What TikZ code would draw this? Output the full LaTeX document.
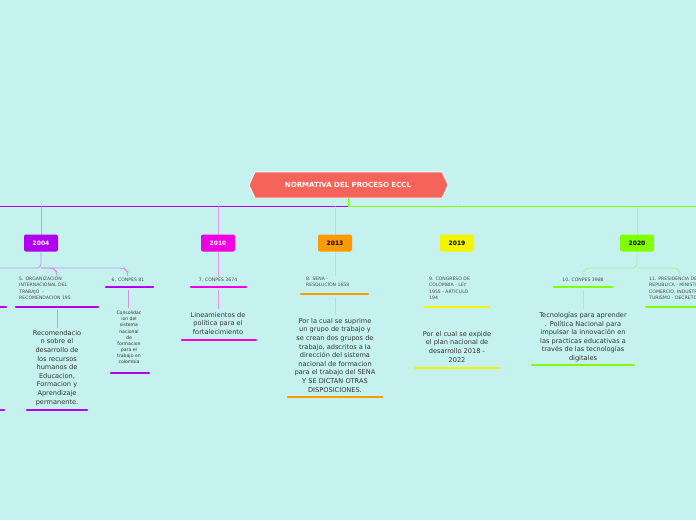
\documentclass[tikz,border=0pt]{standalone}
\usepackage{fontspec}
\setmainfont{DejaVu Sans}
\begin{document}
\begin{tikzpicture}[x=1pt,y=-1pt,
  yr/.style={rounded corners=2pt,minimum width=34pt,minimum height=17pt,inner sep=0pt,font=\fontsize{6}{7}\selectfont\bfseries},
  lab/.style={font=\fontsize{4.6}{6.2}\selectfont,text=black!70,align=left,inner sep=0pt,anchor=north west},
  body/.style={font=\fontsize{6.6}{8.6}\selectfont,text=black!80,align=center,inner sep=0pt,anchor=north},
  ul/.style={line width=2.6pt,line cap=round},
  br/.style={line width=0.8pt,rounded corners=4pt}]
\useasboundingbox (0,0) rectangle (696,520);
\fill[fill={rgb,255:red,197;green,242;blue,238}] (0,0) rectangle (696,520);
\clip (0,0) rectangle (696,520);
\definecolor{pu}{HTML}{B000F0}\definecolor{pul}{HTML}{D890F0}
\definecolor{mg}{HTML}{F000E0}\definecolor{mgl}{HTML}{F090E8}
\definecolor{og}{HTML}{FF9900}\definecolor{ogl}{HTML}{F0D090}
\definecolor{ye}{HTML}{F4F400}\definecolor{yel}{HTML}{E8F0A0}
\definecolor{gr}{HTML}{80FF00}\definecolor{grl}{HTML}{B0F0A0}
\definecolor{tred}{HTML}{F4645A}
% title
\coordinate (tc) at (348,197);
\draw[gr,line width=0.8pt] (tc) -- (348,206);
\draw[pu,line width=0.8pt] (0,206) -- (348,206);
\draw[gr,line width=0.8pt] (348,206) -- (696,206);
\fill[tred,draw=white,line width=0.8pt] (255,172) -- (442,172) -- (448,185) -- (442,198) -- (255,198) -- (249,185) -- cycle;
\node[text=white,font=\fontsize{7}{8}\selectfont\bfseries] (title) at (348,185) {NORMATIVA DEL PROCESO ECCL};
% year stems
\draw[pul,line width=0.8pt] (41,206) -- (41,240);
\draw[mgl,line width=0.8pt] (218,206) -- (218,240);
\draw[ogl,line width=0.8pt] (335,206) -- (335,240);
\draw[yel,line width=0.8pt] (457,206) -- (457,240);
\draw[grl,line width=0.8pt] (637,206) -- (637,240);
\node[yr,fill=pu,text=white] (y04) at (41,243) {2004};
\node[yr,fill=mg,text=white] (y10) at (218,243) {2010};
\node[yr,fill=og,text=black] (y13) at (335,243) {2013};
\node[yr,fill=ye,text=black] (y19) at (457,243) {2019};
\node[yr,fill=gr,text=black] (y20) at (637,243) {2020};
% 2004 branch
\draw[pul,br] (y04.south) -- (41,268) -- (0,268);
\draw[pul,br] (41,268) -- (124,268) -- (128,272) -- (128,276);
\draw[pul,br] (41,268) -- (53,268) -- (57,272) -- (57,276);
\draw[pul,line width=0.8pt] (57,310) -- (57,328);
\draw[pul,line width=0.8pt] (128,290) -- (128,308);
\node[lab] (l5) at (19,277) {5. ORGANIZACION\\INTERNACIONAL DEL\\TRABAJO \ -\\RECOMENDACION 195};
\draw[pu,ul] (16,307) -- (98,307);
\draw[pu,ul] (-5,307) -- (6,307);
\draw[pu,ul] (-5,410) -- (4,410);
\node[lab,anchor=north] (l6) at (128,278) {6. CONPES 81};
\draw[pu,ul] (106,287) -- (153,287);
\node[body] (b5) at (57,330) {Recomendacio\\n sobre el\\desarrollo de\\los recursos\\humanos de\\Educacion,\\Formacion y\\Aprendizaje\\permanente.};
\draw[pu,ul] (27,410) -- (87,410);
\node[body,font=\fontsize{4.6}{6.1}\selectfont] (b6) at (129,311) {Consolidac\\ion del\\sistema\\nacional\\de\\formacion\\para el\\trabajo en\\colombia};
\draw[pu,ul] (111,373) -- (149,373);
% 2010
\draw[mgl,line width=0.8pt] (y10.south) -- (218,277);
\node[lab,anchor=north] (l7) at (218,278) {7. CONPES 3674};
\draw[mg,ul] (191,287) -- (246,287);
\draw[mgl,line width=0.8pt] (218,290) -- (218,309);
\node[body] (b7) at (218,312) {Lineamientos de\\politica para el\\fortalecimiento};
\draw[mg,ul] (182,340) -- (256,340);
% 2013
\draw[ogl,line width=0.8pt] (y13.south) -- (335,276);
\node[lab] (l8) at (306,277) {8. SENA -\\RESOLUCION 1658};
\draw[og,ul] (301,294) -- (368,294);
\draw[ogl,line width=0.8pt] (335,297) -- (335,315);
\node[body] (b8) at (335,318) {Por la cual se suprime\\un grupo de trabajo y\\se crean dos grupos de\\trabajo, adscritos a la\\dirección del sistema\\nacional de formacion\\para el trabajo del SENA\\Y SE DICTAN OTRAS\\DISPOSICIONES.};
\draw[og,ul] (288,397) -- (382,397);
% 2019
\draw[yel,line width=0.8pt] (y19.south) -- (457,276);
\node[lab] (l9) at (429,277) {9. CONGRESO DE\\COLOMBIA - LEY\\1955 - ARTICULO\\194};
\draw[ye,ul] (425,307) -- (489,307);
\draw[yel,line width=0.8pt] (457,310) -- (457,328);
\node[body] (b9) at (457,331) {Por el cual se expide\\el plan nacional de\\desarrollo 2018 -\\2022};
\draw[ye,ul] (415,368) -- (499,368);
% 2020
\draw[grl,br] (y20.south) -- (637,268) -- (587,268) -- (583,272) -- (583,277);
\draw[grl,br] (637,268) -- (676,268) -- (680,272) -- (680,276);
\node[lab,anchor=north] (l10) at (583,278) {10. CONPES 3988};
\draw[gr,ul] (554,287) -- (612,287);
\draw[grl,line width=0.8pt] (583,290) -- (583,309);
\node[body] (b10) at (583,312) {Tecnologías para aprender\\. Política Nacional para\\impulsar la innovación en\\las practicas educativas a\\través de las tecnologías\\digitales};
\draw[gr,ul] (532,365) -- (634,365);
\node[lab] (l11) at (649,277) {11. PRESIDENCIA DE LA\\REPUBLICA - MINISTERIO DE\\COMERCIO, INDUSTRIA Y\\TURISMO - DECRETO};
\draw[gr,ul] (646,307) -- (700,307);
\end{tikzpicture}
\end{document}
